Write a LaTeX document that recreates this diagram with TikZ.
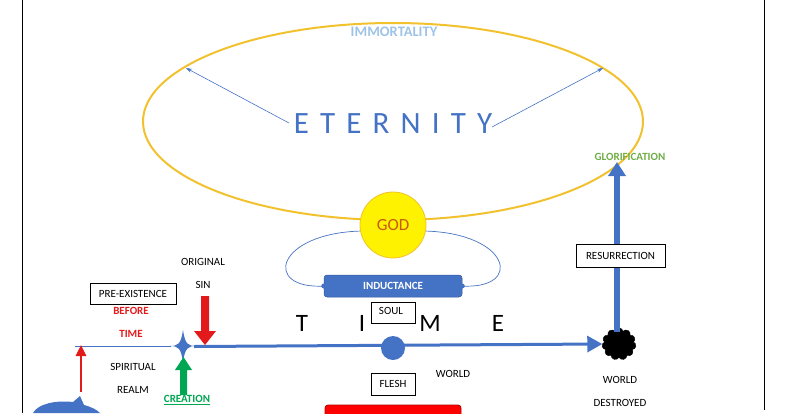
\documentclass[tikz,border=0pt]{standalone}
\usepackage{fontspec}
\setmainfont{Carlito}
\usetikzlibrary{shapes.symbols,arrows.meta}
\definecolor{oblue}{HTML}{4472C4}
\definecolor{gold}{HTML}{F2C12E}
\definecolor{lblue}{HTML}{9DC3E6}
\definecolor{ggreen}{HTML}{70AD47}
\definecolor{cgreen}{HTML}{00A651}
\definecolor{godred}{HTML}{C55A11}
\definecolor{bred}{HTML}{E31A1C}
\tikzset{
  lbl/.style={font=\fontsize{11}{12}\selectfont, inner sep=0pt},
  boxlbl/.style={draw=black, line width=0.8pt, font=\fontsize{11}{12}\selectfont, inner sep=0pt},
  redlbl/.style={inner sep=0pt, text=bred, font=\fontsize{11}{12}\selectfont\bfseries},
  timeletter/.style={font=\fontsize{25}{27}\selectfont, inner sep=0pt},
  thinarrow/.style={draw=oblue, line width=0.6pt, -{Stealth[length=6pt,width=4pt]}},
}
\begin{document}
\begin{tikzpicture}[x=1pt,y=-1pt]
\useasboundingbox (0,0) rectangle (785,413);
% borders
\draw[line width=1pt] (22,0) -- (22,413);
\draw[line width=1pt] (764,0) -- (764,410);
% eternity ellipse
\draw[gold, line width=2pt] (393,121.5) ellipse [x radius=250, y radius=98.5];
\node[inner sep=0pt, text=lblue, font=\fontsize{14.5}{16}\selectfont\bfseries] (immo) at (394,32) {IMMORTALITY};
\node[inner sep=0pt, text=oblue, font=\fontsize{31}{33}\selectfont] (eter) at (393,124) {E\hspace{0.36em}T\hspace{0.36em}E\hspace{0.36em}R\hspace{0.36em}N\hspace{0.36em}I\hspace{0.36em}T\hspace{0.36em}Y};
\coordinate (ul) at (186,68);
\coordinate (ur) at (603,68);
\draw[thinarrow] (289,123) -- (ul);
\draw[thinarrow] (492,127) -- (ur);
% inductance loop
\draw[oblue, line width=0.7pt] (362,231) .. controls (275,233) and (262,290) .. (325,286);
\draw[oblue, line width=0.7pt] (424,231) .. controls (511,233) and (524,290) .. (461,286);
% GOD
\node[circle, draw=gold, fill=yellow, line width=0.8pt, minimum size=66pt, inner sep=0pt, text=godred, font=\fontsize{17}{18}\selectfont] (god) at (393,225) {GOD};
% inductance box
\node[rounded corners=3pt, fill=oblue, draw=oblue!80!black, line width=0.5pt, minimum width=138pt, minimum height=22pt, inner sep=0pt, text=white, font=\fontsize{11}{12}\selectfont\bfseries] (ind) at (393,286) {INDUCTANCE};
\fill[oblue] (ind.west) circle (2.5pt);
\fill[oblue] (ind.east) circle (2.5pt);
% TIME letters
\node[timeletter] (tT) at (302,323) {T};
\node[timeletter] (tI) at (362,323) {I};
\node[timeletter] (tM) at (430,323) {M};
\node[timeletter] (tE) at (498,323) {E};
% SOUL / FLESH
\node[boxlbl, minimum width=44pt, minimum height=21pt, anchor=north] (soul) at (393,302) {};
\node[lbl, anchor=north] at (391,307) {SOUL};
\node[boxlbl, minimum width=44pt, minimum height=22pt] (flesh) at (393,384) {FLESH};
\node[lbl] (world) at (453,374) {WORLD};
% timeline
\coordinate (tl0) at (75,346);
\node[inner sep=0pt, minimum size=4pt] (star) at (183,346) {};
\fill[oblue] (170,346) .. controls (178,346) and (181,344) .. (183,330) .. controls (185,344) and (188,346) .. (196,346) .. controls (188,346) and (185,348) .. (183,362) .. controls (181,348) and (178,346) .. (170,346) -- cycle;
\draw[oblue, line width=0.8pt] (tl0) -- (171,346);
\node[cloud, cloud puffs=11, fill=black, draw=black, minimum width=34pt, minimum height=32pt, inner sep=0pt] (cloud) at (619,344) {};
\draw[oblue, line width=3pt, -{Triangle[length=15pt,width=16pt]}] (194,346.5) -- (cloud.west);
\node[circle, fill=oblue, minimum size=24pt, inner sep=0pt] (soulc) at (393,348) {};
% resurrection arrow
\node[inner sep=0pt] (glor) at (630,157) {\textcolor{ggreen}{\fontsize{11}{12}\selectfont\bfseries GLORIFICATION}};
\coordinate (gl) at (617,162);
\draw[oblue, line width=6pt, -{Triangle[length=14pt,width=17pt]}] (617,332) -- (gl);
\node[boxlbl, fill=white, minimum width=89pt, minimum height=23pt] (res) at (620.5,256) {RESURRECTION};
\node[lbl] (wd1) at (620,380) {WORLD};
\node[lbl] (wd2) at (620,403) {DESTROYED};
% left labels
\node[lbl] (orig) at (203,262) {ORIGINAL};
\node[lbl] (sin) at (203,285) {SIN};
\node[boxlbl, minimum width=86pt, minimum height=21pt] (pre) at (133,293.5) {PRE-EXISTENCE};
\node[redlbl] (before) at (131,311) {BEFORE};
\node[redlbl] (btime) at (131,334) {TIME};
\node[lbl] (spir) at (133,367) {SPIRITUAL};
\node[lbl] (realm) at (133,390) {REALM};
\node[inner sep=0pt, text=cgreen, font=\fontsize{11}{12}\selectfont\bfseries] (crea) at (187,400) {\underline{CREATION}};
% sin arrow (red, down)
\fill[bred] (201,296) -- (209,296) -- (209,331) -- (216,331) -- (205,345) -- (194,331) -- (201,331) -- cycle;
% creation arrow (green, up)
\fill[cgreen] (180,395) -- (187,395) -- (187,370) -- (192,370) -- (183.5,357) -- (175,370) -- (180,370) -- cycle;
% left red arrow
\coordinate (lra) at (81,392);
\draw[bred, line width=2.5pt, -{Triangle[length=11pt,width=10pt]}] (lra) -- (81,345);
% blob bottom-left
\fill[oblue] (33,413) .. controls (38,404) and (55,400) .. (73,402) -- (80,396) -- (84,405) .. controls (92,407) and (97,410) .. (100,413) -- cycle;
% red box bottom
\fill[red, draw=red!70!black, line width=0.8pt, rounded corners=3pt] (325,405) rectangle (461,420);
\end{tikzpicture}
\end{document}
